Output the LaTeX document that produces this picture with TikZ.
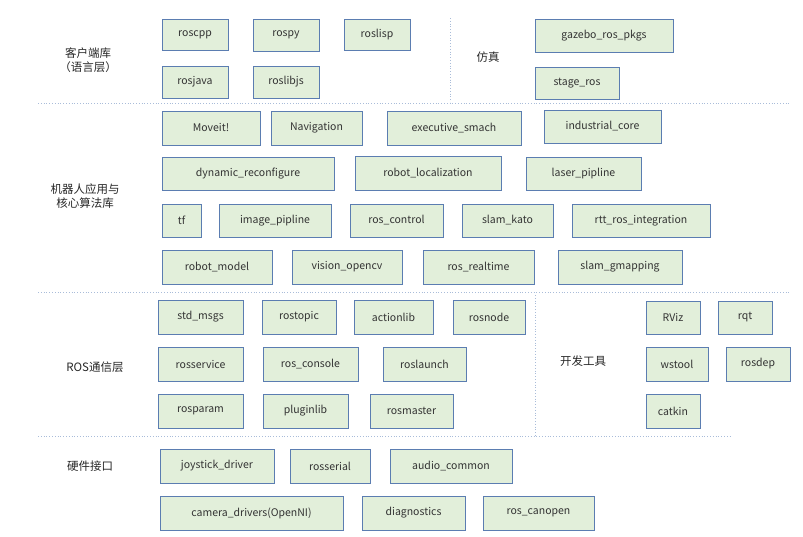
\documentclass[tikz,border=0pt]{standalone}
\usepackage{fontspec}
\setmainfont{Noto Sans CJK SC}
\definecolor{bfill}{HTML}{E2EFDA}
\definecolor{bdraw}{HTML}{5B7DB1}
\definecolor{sep}{HTML}{A9BCD9}
\begin{document}
\begin{tikzpicture}[x=1pt,y=-1pt,
  bx/.style={draw=bdraw,fill=bfill,line width=0.9pt,font=\fontsize{10.5}{12}\selectfont,text=black!80},
  lbl/.style={font=\fontsize{11.5}{14}\selectfont,text=black!85,align=center},
  sp/.style={draw=sep,dotted,line width=0.8pt}]
\useasboundingbox (0,0) rectangle (803,537);
\newcommand\bx[6]{\draw[bx] (#2,#3) rectangle (#4,#5) node[midway,text=black!80,font=\fontsize{10.5}{12}\selectfont] (#1) {#6};}
\bx{a1}{162}{19}{228}{50}{roscpp}
\bx{a2}{253}{19}{319}{51}{rospy}
\bx{a3}{344}{19}{410}{50}{roslisp}
\bx{a4}{162}{66}{228}{98}{rosjava}
\bx{a5}{253}{66}{319}{98}{roslibjs}
\bx{g1}{535}{19}{673}{52}{gazebo\_ros\_pkgs}
\bx{g2}{535}{67}{619}{99}{stage\_ros}
\bx{b1}{162}{111}{260}{145}{Moveit!}
\bx{b2}{271}{111}{362}{145}{Navigation}
\bx{b3}{387}{111}{521}{145}{executive\_smach}
\bx{b4}{544}{110}{661}{143}{industrial\_core}
\bx{b5}{162}{157}{334}{190}{dynamic\_reconfigure}
\bx{b6}{355}{156}{501}{190}{robot\_localization}
\bx{b7}{526}{157}{641}{190}{laser\_pipline}
\bx{b8}{162}{204}{201}{237}{tf}
\bx{b9}{219}{204}{331}{237}{image\_pipline}
\bx{b10}{350}{204}{443}{237}{ros\_control}
\bx{b11}{462}{204}{553}{237}{slam\_kato}
\bx{b12}{572}{204}{710}{237}{rtt\_ros\_integration}
\bx{b13}{162}{250}{272}{284}{robot\_model}
\bx{b14}{292}{250}{402}{284}{vision\_opencv}
\bx{b15}{423}{250}{534}{284}{ros\_realtime}
\bx{b16}{558}{250}{682}{284}{slam\_gmapping}
\bx{c1}{158}{300}{243}{334}{std\_msgs}
\bx{c2}{262}{300}{336}{334}{rostopic}
\bx{c3}{354}{300}{433}{334}{actionlib}
\bx{c4}{453}{300}{525}{334}{rosnode}
\bx{c5}{158}{347}{243}{381}{rosservice}
\bx{c6}{263}{347}{358}{381}{ros\_console}
\bx{c7}{383}{347}{466}{381}{roslaunch}
\bx{c8}{158}{394}{243}{428}{rosparam}
\bx{c9}{263}{394}{348}{428}{pluginlib}
\bx{c10}{370}{394}{453}{428}{rosmaster}
\bx{d1}{646}{301}{700}{334}{RViz}
\bx{d2}{718}{301}{772}{334}{rqt}
\bx{d3}{646}{347}{708}{381}{wstool}
\bx{d4}{726}{347}{790}{381}{rosdep}
\bx{d5}{646}{394}{700}{428}{catkin}
\bx{e1}{160}{449}{274}{483}{joystick\_driver}
\bx{e2}{290}{449}{370}{483}{rosserial}
\bx{e3}{390}{449}{512}{483}{audio\_common}
\bx{e4}{160}{496}{343}{530}{camera\_drivers(OpenNI)}
\bx{e5}{362}{496}{465}{530}{diagnostics}
\bx{e6}{483}{496}{594}{530}{ros\_canopen}
\draw[sp] (38,103) -- (790,103);
\draw[sp] (38,292) -- (790,292);
\draw[sp] (38,436) -- (730,436);
\draw[sp] (450,18) -- (450,102);
\draw[sp] (535,295) -- (535,436);
\node[lbl] (l1) at (88,60) {客户端库\\（语言层）};
\node[lbl] (l2) at (488,57) {仿真};
\node[lbl] (l3) at (85,196) {机器人应用与\\核心算法库};
\node[lbl] (l4) at (95,367) {ROS通信层};
\node[lbl] (l5) at (583,361) {开发工具};
\node[lbl] (l6) at (90,466) {硬件接口};
\end{tikzpicture}
\end{document}
